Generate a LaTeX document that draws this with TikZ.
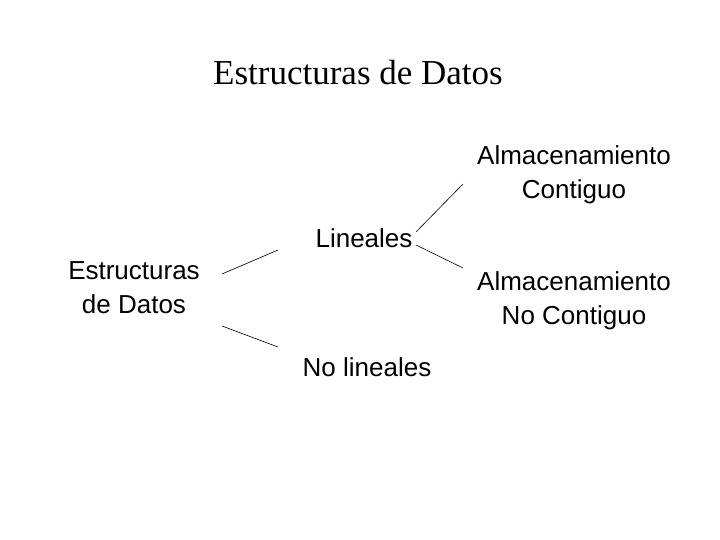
\documentclass[tikz,border=0pt]{standalone}
\usepackage{fontspec}
\setmainfont{Liberation Sans}
\newfontfamily\titlefont{Liberation Serif}
\begin{document}
\begin{tikzpicture}[x=1pt,y=-1pt,
  lbl/.style={align=center,font=\fontsize{26}{34}\selectfont,inner sep=0pt},
  conn/.style={draw=black,line width=0.6pt}]
\useasboundingbox (0,0) rectangle (720,540);
\node[inner sep=0pt,font=\titlefont\fontsize{35}{40}\selectfont] (title) at (358,73) {Estructuras de Datos};
\node[lbl] (ac) at (574,175) {Almacenamiento\\Contiguo};
\node[lbl] (lin) at (364,238) {Lineales};
\node[lbl] (ed) at (134,288) {Estructuras\\de Datos};
\node[lbl] (anc) at (574,301) {Almacenamiento\\No Contiguo};
\node[lbl] (nl) at (367,367) {No lineales};
\coordinate (a1) at (222,274); \coordinate (a2) at (278,250);
\coordinate (b1) at (222,326); \coordinate (b2) at (278,347);
\coordinate (c1) at (416,232); \coordinate (c2) at (463,184);
\coordinate (d1) at (416,245); \coordinate (d2) at (463,268);
\draw[conn] (a1) -- (a2);
\draw[conn] (b1) -- (b2);
\draw[conn] (c1) -- (c2);
\draw[conn] (d1) -- (d2);
\end{tikzpicture}
\end{document}
